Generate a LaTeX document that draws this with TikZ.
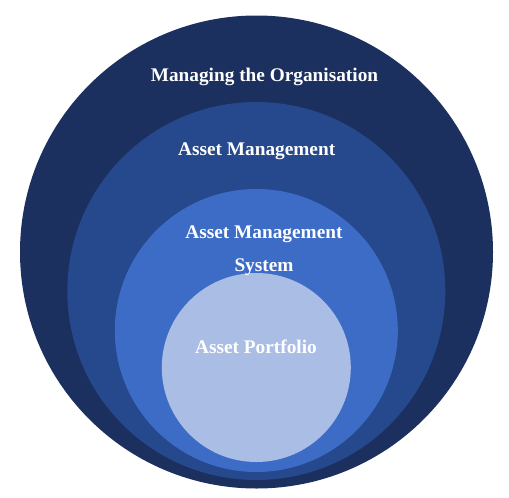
\documentclass[tikz,border=0pt]{standalone}
\usepackage{fontspec}
\setmainfont{Liberation Serif}
\definecolor{ringA}{HTML}{1B305F}
\definecolor{ringB}{HTML}{26488C}
\definecolor{ringC}{HTML}{3D6CC7}
\definecolor{ringD}{HTML}{AABDE5}
\begin{document}
\begin{tikzpicture}[x=1pt,y=-1pt,
  ring/.style={circle,inner sep=0pt,outer sep=0pt,draw=none},
  lbl/.style={text=white,font=\fontsize{19.3}{33}\selectfont\bfseries,anchor=base,inner sep=0pt,align=center}]
\useasboundingbox (0,0) rectangle (509,498);
\node[ring,fill=ringA,minimum size=473pt] (org) at (256.5,252) {};
\node[ring,fill=ringB,minimum size=378pt] (am) at (256.3,291) {};
\node[ring,fill=ringC,minimum size=283pt] (ams) at (256.3,330.5) {};
\node[ring,fill=ringD,minimum size=189pt] (ap) at (256.3,367.5) {};
\node[lbl] (torg) at (264.5,81.7) {Managing the Organisation};
\node[lbl] (tam) at (256.7,155.3) {Asset Management};
\node[lbl] (tams) at (264,271.7) {Asset Management\\System};
\node[lbl] (tap) at (256,353.3) {Asset Portfolio};
\end{tikzpicture}
\end{document}
